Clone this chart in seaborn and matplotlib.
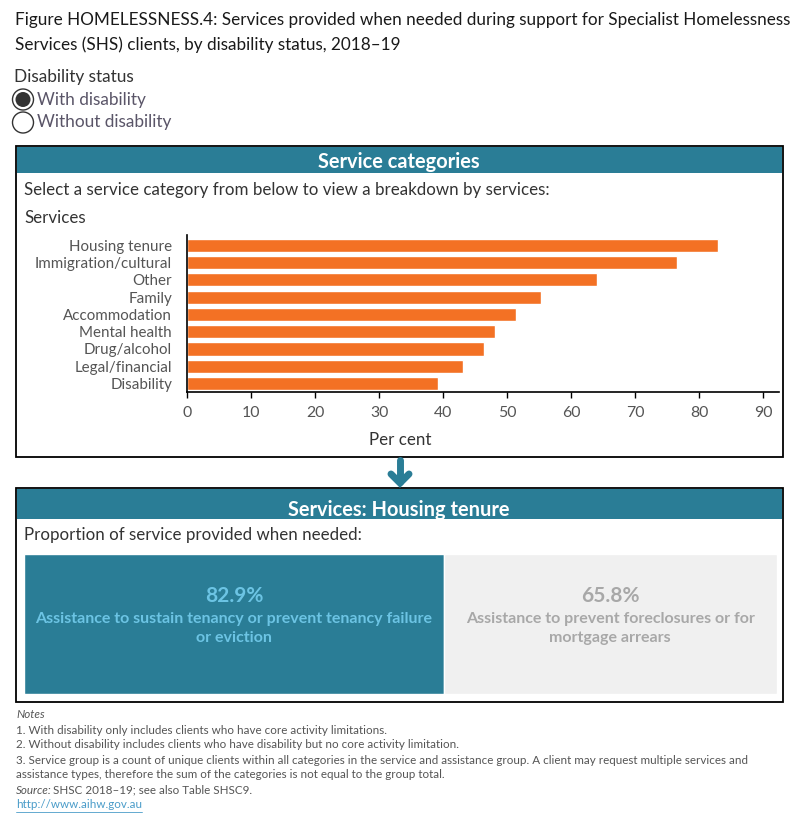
import numpy as np
import pandas as pd
import seaborn as sns
import matplotlib.pyplot as plt
from matplotlib.patches import Rectangle, Circle

# data
categories = ["Housing tenure", "Immigration/cultural", "Other", "Family", "Accommodation",
              "Mental health", "Drug/alcohol", "Legal/financial", "Disability"]
per_cent = [82.9, 76.5, 64.0, 55.3, 51.3, 48.0, 46.4, 43.0, 39.2]
x_ticks = [0, 10, 20, 30, 40, 50, 60, 70, 80, 90]

services = ["Assistance to sustain tenancy or prevent tenancy failure\nor eviction",
            "Assistance to prevent foreclosures or for\nmortgage arrears"]
service_pct = [82.9, 65.8]

disability_options = ["With disability", "Without disability"]

notes = [
    "1. With disability only includes clients who have core activity limitations.",
    "2. Without disability includes clients who have disability but no core activity limitation.",
    "3. Service group is a count of unique clients within all categories in the service and assistance group. A client may request multiple services and",
    "assistance types, therefore the sum of the categories is not equal to the group total.",
]

TEAL = "#2a7d96"
ORANGE = "#f37124"
W, H = 800, 827

sns.set_theme(style="white")
plt.rcParams["font.family"] = ["Lato", "DejaVu Sans"]

fig = plt.figure(figsize=(W / 100, H / 100), dpi=100)

# overlay in pixel coords for the dashboard frame
bg = fig.add_axes([0, 0, 1, 1])
bg.set_xlim(0, W)
bg.set_ylim(H, 0)
bg.axis("off")


def txt(x, y, s, **kw):
    kw.setdefault("va", "center")
    kw.setdefault("color", "#333333")
    bg.text(x, y, s, **kw)


txt(15, 20, "Figure HOMELESSNESS.4: Services provided when needed during support for Specialist Homelessness",
    fontsize=12.3, color="#1a1a1a")
txt(15, 45, "Services (SHS) clients, by disability status, 2018\u201319", fontsize=12.3, color="#1a1a1a")

txt(14, 77, "Disability status", fontsize=12.4)
for i, lab in enumerate(disability_options):
    cy = 99.5 + i * 23
    bg.add_patch(Circle((23, cy), 10.5, facecolor="white", edgecolor="#333333", lw=1))
    if i == 0:
        bg.add_patch(Circle((23, cy), 7.5, facecolor="#333333", edgecolor="none"))
    txt(37, cy, lab, fontsize=12.4, color="#5a5568")

# top panel
bg.add_patch(Rectangle((16, 146), 766.5, 310.5, facecolor="white", edgecolor="black", lw=1.3))
bg.add_patch(Rectangle((16.6, 146.6), 765.3, 26, facecolor=TEAL, edgecolor="none"))
txt(399, 162, "Service categories", fontsize=14.4, color="white", fontweight="bold", ha="center")
txt(24, 190, "Select a service category from below to view a breakdown by services:", fontsize=12.2)
txt(24, 218, "Services", fontsize=12.2)
txt(400, 440, "Per cent", fontsize=12.2, ha="center")

# arrow
bg.plot([400, 400], [460, 482], color=TEAL, lw=5, solid_capstyle="round")
bg.plot([391, 400, 409], [474, 483, 474], color=TEAL, lw=5,
        solid_capstyle="round", solid_joinstyle="miter")

# bottom panel
bg.add_patch(Rectangle((16, 488.3), 766.5, 213.4, facecolor="white", edgecolor="black", lw=1.3))
bg.add_patch(Rectangle((16.6, 488.9), 765.3, 30, facecolor=TEAL, edgecolor="none"))
txt(399, 510, "Services: Housing tenure", fontsize=14.4, color="white", fontweight="bold", ha="center")
txt(24, 535, "Proportion of service provided when needed:", fontsize=12.2)

# notes
fs_n = 8.4
txt(16, 715, "Notes", fontsize=fs_n, color="#555555", style="italic")
for i, line in enumerate(notes):
    txt(16, 730 + 15 * i, line, fontsize=fs_n, color="#555555")
bg.text(16, 790, "Source:", fontsize=fs_n, color="#555555", style="italic", va="center")
txt(53, 790, "SHSC 2018\u201319; see also Table SHSC9.", fontsize=fs_n, color="#555555")
bg.text(16, 805, "http://www.aihw.gov.au", fontsize=fs_n, color="#4a9cc9", va="center")
bg.plot([16, 142], [812, 812], color="#4a9cc9", lw=0.6)

# bar chart of service categories
ax = fig.add_axes([187.3 / W, 1 - 392.3 / H, 591.7 / W, 157.3 / H])
ax.patch.set_alpha(0)
df = pd.DataFrame({"category": categories, "pct": per_cent})
sns.barplot(data=df, x="pct", y="category", orient="h", color=ORANGE, saturation=1,
            width=0.76, ax=ax)
ax.set_xlim(0, 92.45)
ax.set_ylim(8.51, -0.6)
ax.set_xticks(x_ticks)
ax.set_xlabel("")
ax.set_ylabel("")
sns.despine(ax=ax, top=True, right=True)
for s in ["left", "bottom"]:
    ax.spines[s].set_color("black")
    ax.spines[s].set_linewidth(1.2)
ax.tick_params(axis="x", bottom=True, length=4, width=1, color="black", pad=6,
               labelsize=11.4, labelcolor="#555555")
ax.tick_params(axis="y", left=False, pad=5, labelsize=10.9, labelcolor="#555555")

# services treemap tiles (stacked bar)
tx = fig.add_axes([24 / W, 1 - 694 / H, 752.7 / W, 140 / H])
tx.axis("off")
tile_colors = [TEAL, "#f0f0f0"]
text_colors = ["#6cc4e4", "#a8a8a8"]
left = 0
for pct, name, fc, tc in zip(service_pct, services, tile_colors, text_colors):
    tx.barh([0], [pct], left=left, height=1, color=fc, edgecolor="white", linewidth=1)
    mid = left + pct / 2
    tx.text(mid, 0.2, f"{pct}%", ha="center", va="center", fontsize=15,
            fontweight="bold", color=tc)
    tx.text(mid, -0.03, name, ha="center", va="center", fontsize=11.5,
            fontweight="bold", color=tc, linespacing=1.45)
    left += pct
tx.set_xlim(0, sum(service_pct))
tx.set_ylim(-0.5, 0.5)

fig.savefig("out.png", dpi=100)
